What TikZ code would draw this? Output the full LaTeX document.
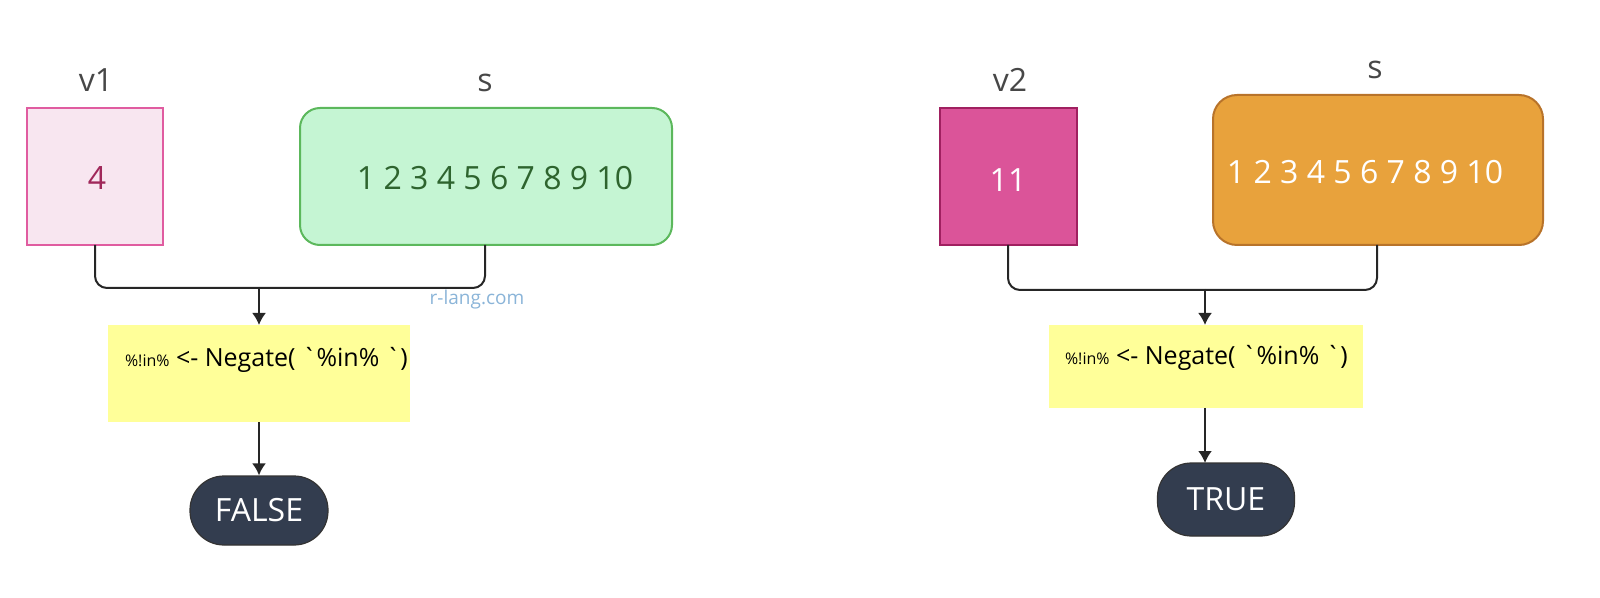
\documentclass[tikz,border=0pt]{standalone}
\usepackage{fontspec}
\setmainfont{Open Sans}
\usetikzlibrary{arrows.meta}
\definecolor{ylw}{HTML}{FFFF99}
\definecolor{pillc}{HTML}{333D4F}
\begin{document}
\begin{tikzpicture}[x=0.5pt,y=-0.5pt,
 lab/.style={text=black!72,font=\fontsize{16}{19}\selectfont},
 num/.style={font=\fontsize{16}{19}\selectfont},
 conn/.style={draw=black!85,line width=1pt,rounded corners=6pt},
 arr/.style={conn,-{Latex[length=6pt,width=7pt]}},
 pill/.style={fill=pillc,draw=black!80,line width=0.6pt,rounded corners=17pt,text=white,font=\fontsize{16}{19}\selectfont}]
\useasboundingbox (0,0) rectangle (1600,598);
% left
\node[lab] (v1l) at (96,80) {v1};
\draw[fill={rgb,255:red,248;green,230;blue,240},draw={rgb,255:red,224;green,92;blue,160},line width=1pt] (27,108) rectangle (163,245);
\node[num,text={rgb,255:red,160;green,40;blue,90}] (v1) at (97,178) {4};
\node[lab] (s1l) at (485,83) {s};
\draw[fill={rgb,255:red,197;green,245;blue,211},draw={rgb,255:red,92;green,184;blue,92},line width=1pt,rounded corners=10pt] (300,108) rectangle (672,245);
\node[num,text={rgb,255:red,46;green,100;blue,46}] (s1) at (495,178) {1 2 3 4 5 6 7 8 9 10};
\fill[ylw] (108,325) rectangle (410,422);
\node[anchor=west,font=\fontsize{12.5}{15}\selectfont] (y1) at (118,360) {{\fontsize{8}{9}\selectfont\%!in\%} <- Negate( \textasciigrave\%in\% \textasciigrave)};
\coordinate (y1t) at (259,325); \coordinate (y1b) at (259,422);
\coordinate (j1) at (259,288);
\draw[conn] (95,245) -- (95,288) -- (259,288);
\draw[conn] (485,245) -- (485,288) -- (259,288);
\draw[arr] (j1) -- (y1t);
\node[pill,minimum width=69pt,minimum height=34.5pt] (f) at (259,510.5) {FALSE};
\draw[arr] (y1b) -- (f.north);
\node[text={rgb,255:red,138;green,180;blue,216},font=\fontsize{9.5}{11}\selectfont] (wm) at (477,300) {r-lang.com};
% right
\node[lab] (v2l) at (1010,80) {v2};
\draw[fill={rgb,255:red,219;green,84;blue,153},draw={rgb,255:red,160;green,32;blue,96},line width=1pt] (940,108) rectangle (1077,245);
\node[num,text=white] (v2) at (1008,180) {11};
\node[lab] (s2l) at (1375,70) {s};
\draw[fill={rgb,255:red,232;green,162;blue,60},draw={rgb,255:red,184;green,115;blue,42},line width=1pt,rounded corners=12pt] (1213,95) rectangle (1543,245);
\node[num,text=white] (s2) at (1365,172) {1 2 3 4 5 6 7 8 9 10};
\fill[ylw] (1049,325) rectangle (1363,408);
\node[anchor=west,font=\fontsize{12.5}{15}\selectfont] (y2) at (1058,358) {{\fontsize{8}{9}\selectfont\%!in\%} <- Negate( \textasciigrave\%in\% \textasciigrave)};
\coordinate (y2t) at (1205,325); \coordinate (y2b) at (1205,408);
\coordinate (j2) at (1205,290);
\draw[conn] (1008,245) -- (1008,290) -- (1205,290);
\draw[conn] (1377,245) -- (1377,290) -- (1205,290);
\draw[arr] (j2) -- (y2t);
\node[pill,minimum width=68.5pt,minimum height=36.5pt] (t) at (1226,499.5) {TRUE};
\draw[arr] (y2b) -- (1205,463);
\end{tikzpicture}
\end{document}
